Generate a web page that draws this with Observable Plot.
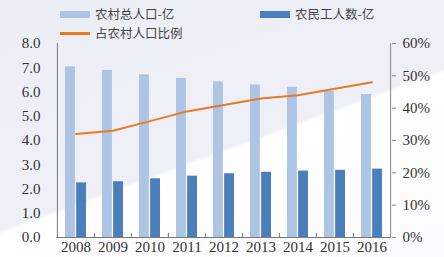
<!DOCTYPE html>
<html>
<head>
<meta charset="utf-8">
<script src="https://cdn.jsdelivr.net/npm/d3@7"></script>
<script src="https://cdn.jsdelivr.net/npm/@observablehq/plot@0.6"></script>
<style>
  html, body { margin: 0; padding: 0; }
  body {
    width: 444px; height: 257px; overflow: hidden;
    background: linear-gradient(160deg, #eceef6 0%, #eff0f7 55%, #ffffff 56%, #fbfbfd 100%);
    color: #333;
  }
  #legend { position: relative; height: 35px; font-family: "Noto Sans CJK SC", sans-serif; font-size: 12.5px; line-height: 14px; color: #444; }
  .item { position: absolute; display: flex; align-items: center; white-space: nowrap; height: 14px; }
  .sw { width: 30px; height: 7px; margin-right: 5px; }
  .ln { width: 30px; height: 3px; margin-right: 5px; }
  #chart svg { display: block; background: transparent !important; }
  #chart svg text, #chart svg g { font-family: "Liberation Serif", "DejaVu Serif", "Times New Roman", serif !important; font-size: 15px; }
</style>
</head>
<body>
<div id="legend"></div>
<div id="chart"></div>
<script>
const years = ["2008","2009","2010","2011","2012","2013","2014","2015","2016"];
const ruralPop = [7.04, 6.89, 6.71, 6.56, 6.42, 6.29, 6.19, 6.03, 5.90];
const migrantWorkers = [2.25, 2.30, 2.42, 2.53, 2.63, 2.69, 2.74, 2.77, 2.82];
const shareOfRural = [32, 33, 36, 39, 41, 43, 44, 46, 48];
const leftTicks = [0, 1, 2, 3, 4, 5, 6, 7, 8];
const rightTicks = [0, 10, 20, 30, 40, 50, 60];
const seriesNames = ["农村总人口-亿", "农民工人数-亿", "占农村人口比例"];
const colors = ["#aec4e4", "#4b7fbc", "#e87b22"];

const leftMax = 8, rightMax = 60;
const toLeft = p => p / rightMax * leftMax;

const data = years.map((y, i) => ({year: y, pop: ruralPop[i], mw: migrantWorkers[i], share: shareOfRural[i]}));

// legend
const legend = document.getElementById("legend");
const items = [
  {name: seriesNames[0], color: colors[0], type: "sw", left: 60, top: 14},
  {name: seriesNames[1], color: colors[1], type: "sw", left: 260, top: 14},
  {name: seriesNames[2], color: colors[2], type: "ln", left: 60, top: 33}
];
for (const it of items) {
  const d = document.createElement("div");
  d.className = "item";
  d.style.left = it.left + "px";
  d.style.top = (it.top - 7) + "px";
  d.innerHTML = `<span class="${it.type}" style="background:${it.color}"></span><span>${it.name}</span>`;
  legend.appendChild(d);
}

const width = 444, height = 222;
const marginLeft = 56, marginRight = 53;
const bw = (width - marginLeft - marginRight) / years.length;

const chart = Plot.plot({
  width, height,
  marginTop: 8, marginBottom: 20, marginLeft, marginRight,
  style: {fontFamily: '"Liberation Serif", serif', fontSize: "15px", color: "#333", background: "transparent"},
  x: {type: "band", domain: years, padding: 0},
  y: {domain: [0, leftMax]},
  marks: [
    Plot.barY(data, {x: "year", y: "pop", fill: colors[0], insetLeft: bw * 0.215, insetRight: bw * 0.5 + 0.5}),
    Plot.barY(data, {x: "year", y: "mw", fill: colors[1], insetLeft: bw * 0.5 + 0.5, insetRight: bw * 0.215}),
    Plot.line(data, {x: "year", y: d => toLeft(d.share), stroke: colors[2], strokeWidth: 2}),
    Plot.ruleX([0], {x: () => years[0], dx: -bw / 2, y1: 0, y2: leftMax, stroke: "#777"}),
    Plot.ruleX([0], {x: () => years[years.length - 1], dx: bw / 2, y1: 0, y2: leftMax, stroke: "#888"}),
    Plot.ruleY([0], {stroke: "#777"}),
    Plot.ruleX(years.slice(1), {x: d => d, dx: -bw / 2, y1: 0, y2: 0.17, stroke: "#777"}),
    Plot.axisY(leftTicks, {anchor: "left", tickSize: 0, tickPadding: 16, tickFormat: d => d.toFixed(1), label: null, fill: "#333", fontSize: 15}),
    Plot.axisY(rightTicks.map(toLeft), {anchor: "right", tickSize: 4, tickPadding: 7, stroke: "#888", tickFormat: d => Math.round(d / leftMax * rightMax) + "%", label: null, fill: "#333", fontSize: 15}),
    Plot.axisX({tickSize: 0, tickPadding: 4, label: null, fill: "#333", fontSize: 15})
  ]
});
document.getElementById("chart").appendChild(chart);
</script>
</body>
</html>
